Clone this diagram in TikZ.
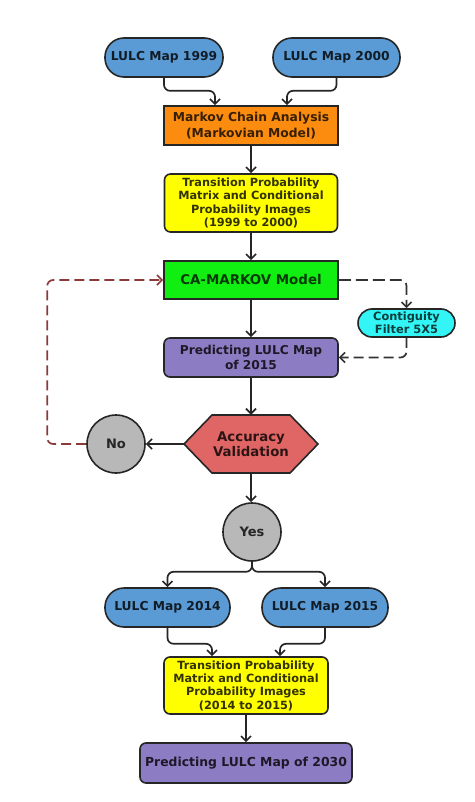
\documentclass[tikz,border=0pt]{standalone}
\usepackage{fontspec}
\newfontfamily\dv{DejaVu Sans}
\usetikzlibrary{arrows.meta}
\definecolor{cblue}{HTML}{5B9BD5}
\definecolor{corange}{HTML}{FB8C0F}
\definecolor{cyellow}{HTML}{FFFF00}
\definecolor{cgreen}{HTML}{11EE11}
\definecolor{ccyan}{HTML}{33F5F5}
\definecolor{cpurple}{HTML}{8C7CC4}
\definecolor{cred}{HTML}{E06666}
\definecolor{cgray}{HTML}{B8B8B8}
\definecolor{dashred}{HTML}{8B3A3A}
\definecolor{dashgray}{HTML}{333333}
\tikzset{
  x=1pt,y=-1pt,
  base/.style={draw=black!85,line width=1.6pt,inner sep=0pt,align=center,font=\dv\bfseries},
  pill/.style={base,rounded corners=19pt,fill=cblue,text=cblue!18!black,minimum width=#1,minimum height=39pt,font=\dv\bfseries\fontsize{12.3}{14}\selectfont},
  sbox/.style={base,minimum width=174pt},
  arr/.style={line width=1.7pt,draw=black!85,-{Straight Barb[length=5pt,width=10pt]},rounded corners=6pt},
  dsh/.style={arr,dash pattern=on 10pt off 5pt},
  circ/.style={base,circle,fill=cgray,text=black!85,minimum size=58pt,font=\dv\bfseries\fontsize{13}{15}\selectfont}
}
\begin{document}
\begin{tikzpicture}
\useasboundingbox[fill=white] (0,0) rectangle (474,802);
\node[pill=118pt] (l1999) at (164,57.5) {LULC Map 1999};
\node[pill=127pt] (l2000) at (336.5,57.5) {LULC Map 2000};
\node[sbox,fill=corange,text=corange!22!black,minimum height=39pt,font=\dv\bfseries\fontsize{12.3}{15.7}\selectfont] (markov) at (251,125.5) {Markov Chain Analysis\\(Markovian Model)};
\node[sbox,rounded corners=6pt,fill=cyellow,text=cyellow!20!black,minimum width=173pt,minimum height=58pt,font=\dv\bfseries\fontsize{11.3}{13.3}\selectfont] (tpm1) at (251,203) {Transition Probability\\Matrix and Conditional\\Probability Images\\(1999 to 2000)};
\node[sbox,fill=cgreen,text=cgreen!25!black,minimum height=38pt,font=\dv\bfseries\fontsize{13.4}{15}\selectfont] (ca) at (251,280) {CA-MARKOV Model};
\node[base,rounded corners=14pt,fill=ccyan,text=ccyan!25!black,minimum width=97pt,minimum height=28pt,font=\dv\bfseries\fontsize{11.4}{13.3}\selectfont] (cont) at (406.5,323) {Contiguity\\Filter 5X5};
\node[sbox,rounded corners=6pt,fill=cpurple,text=cpurple!20!black,minimum height=39pt,font=\dv\bfseries\fontsize{12.2}{15.7}\selectfont] (pred) at (251,357.5) {Predicting LULC Map\\of 2015};
\draw[line width=1.6pt,draw=black!85,fill=cred] (184,444) -- (212,415) -- (290,415) -- (318,444) -- (290,473) -- (212,473) -- cycle;
\node[inner sep=0pt,minimum width=134pt,minimum height=58pt,align=center,text=cred!20!black,font=\dv\bfseries\fontsize{13.3}{15}\selectfont] (acc) at (251,444) {Accuracy\\Validation};
\node[circ] (no) at (116,444) {No};
\node[circ] (yes) at (252,532) {Yes};
\node[pill=125pt] (l2014) at (167.5,607.5) {LULC Map 2014};
\node[pill=126pt] (l2015) at (325,607.5) {LULC Map 2015};
\node[sbox,rounded corners=6pt,fill=cyellow,text=cyellow!20!black,minimum width=164pt,minimum height=57pt,font=\dv\bfseries\fontsize{11.3}{13.3}\selectfont] (tpm2) at (246,685.5) {Transition Probability\\Matrix and Conditional\\Probability Images\\(2014 to 2015)};
\node[sbox,rounded corners=6pt,fill=cpurple,text=cpurple!20!black,minimum width=212pt,minimum height=40pt,font=\dv\bfseries\fontsize{12.4}{15}\selectfont] (p2030) at (246,763) {Predicting LULC Map of 2030};
% connectors
\draw[arr] (l1999.south) -- ++(0,13) -| ([xshift=-36pt]markov.north);
\draw[arr] (l2000.south) -- ++(0,13) -| ([xshift=36pt]markov.north);
\draw[arr] (markov.south) -- (tpm1.north);
\draw[arr] (tpm1.south) -- (ca.north);
\draw[arr] (ca.south) -- (pred.north);
\draw[arr] (pred.south) -- (acc.north);
\draw[arr] (acc.west) -- (no.east);
\draw[arr] (acc.south) -- (acc.south |- yes.north);
\draw[dsh,draw=dashred] (no.west) -- ++(-39,0) |- (ca.west);
\draw[dsh,draw=dashgray,dash pattern=on 12pt off 5pt] (ca.east) -| (cont.north);
\draw[dsh,draw=dashgray] (cont.south) |- (pred.east);
\draw[arr] (yes.south) -- ++(0,10) -| (l2014.north);
\draw[arr] (yes.south) -- ++(0,10) -| (l2015.north);
\draw[arr] (l2014.south) -- ++(0,16) -| ([xshift=-34pt]tpm2.north);
\draw[arr] (l2015.south) -- ++(0,16) -| ([xshift=34pt]tpm2.north);
\draw[arr] (tpm2.south) -- (p2030.north);
\end{tikzpicture}
\end{document}
